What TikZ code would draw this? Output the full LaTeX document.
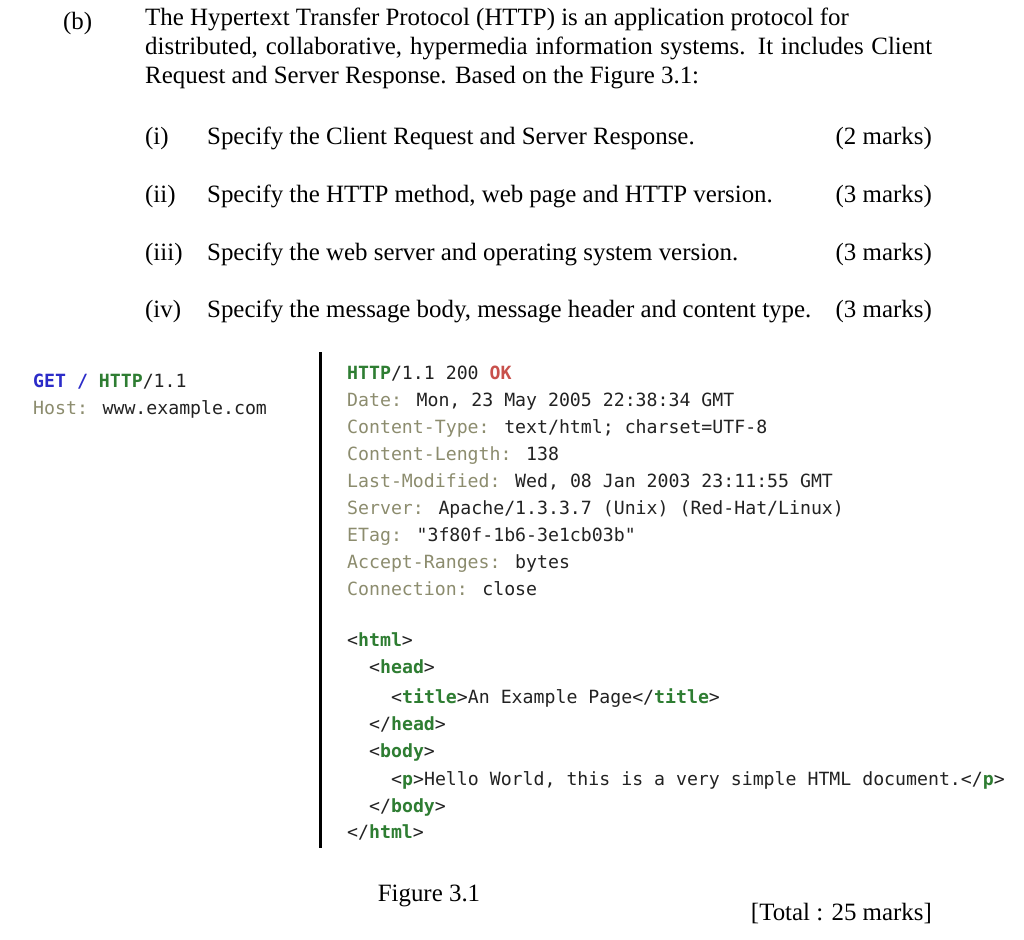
\documentclass[tikz,border=0pt]{standalone}
\usepackage{fontspec}
\setmainfont{Liberation Serif}
\newfontfamily\codefont{DejaVu Sans Mono}
\usepackage{xcolor}
\definecolor{kwblue}{HTML}{2B2BC8}
\definecolor{kwgreen}{HTML}{2E7D32}
\definecolor{hdr}{HTML}{8C8C6E}
\definecolor{okred}{HTML}{C8504B}
\definecolor{txt}{HTML}{222222}
\newcommand{\G}[1]{\textcolor{kwgreen}{\bfseries #1}}
\newcommand{\Hd}[1]{\textcolor{hdr}{#1}}
\tikzset{
  para/.style={anchor=base west,inner sep=0pt,font=\fontsize{24.9}{28.7}\selectfont},
  mk/.style={anchor=base east,inner sep=0pt,font=\fontsize{24.9}{28.7}\selectfont},
  code/.style={anchor=base west,inner sep=0pt,text=txt,font=\codefont\fontsize{18.2}{20}\selectfont}
}
\begin{document}
\begin{tikzpicture}[x=1pt,y=-1pt]
\useasboundingbox (0,0) rectangle (1024,939);
\node[para] (b) at (63,30) {(b)};
\node[para,text width=787pt,align=justify,anchor=north west] (p) at (145,8) {The Hypertext Transfer Protocol (HTTP) is an application protocol for\\ \hbox to 787pt{distributed, collaborative, hypermedia information systems. It includes Client}\\Request and Server Response. Based on the Figure 3.1:};
\node[para] (i1) at (145,144) {(i)};
\node[para] (i2) at (207,144) {Specify the Client Request and Server Response.};
\node[mk] (i3) at (932,144) {(2 marks)};
\node[para] (ii1) at (145,202) {(ii)};
\node[para] (ii2) at (207,202) {Specify the HTTP method, web page and HTTP version.};
\node[mk] (ii3) at (932,202) {(3 marks)};
\node[para] (iii1) at (145,260) {(iii)};
\node[para] (iii2) at (207,260) {Specify the web server and operating system version.};
\node[mk] (iii3) at (932,260) {(3 marks)};
\node[para] (iv1) at (145,317) {(iv)};
\node[para] (iv2) at (207,317) {Specify the message body, message header and content type.};
\node[mk] (iv3) at (932,317) {(3 marks)};
\draw[line width=3pt] (320,352) -- (320,848);
\node[code] (l1) at (33,387) {\textcolor{kwblue}{\bfseries GET / }\G{HTTP}/1.1};
\node[code] (l2) at (33,414) {\Hd{Host:} www.example.com};
\node[code] (r1) at (347,379) {\G{HTTP}/1.1 200 \textcolor{okred}{\bfseries OK}};
\node[code] (r2) at (347,406) {\Hd{Date:} Mon, 23 May 2005 22:38:34 GMT};
\node[code] (r3) at (347,433) {\Hd{Content-Type:} text/html; charset=UTF-8};
\node[code] (r4) at (347,460) {\Hd{Content-Length:} 138};
\node[code] (r5) at (347,487) {\Hd{Last-Modified:} Wed, 08 Jan 2003 23:11:55 GMT};
\node[code] (r6) at (347,514) {\Hd{Server:} Apache/1.3.3.7 (Unix) (Red-Hat/Linux)};
\node[code] (r7) at (347,541) {\Hd{ETag:} "3f80f-1b6-3e1cb03b"};
\node[code] (r8) at (347,568) {\Hd{Accept-Ranges:} bytes};
\node[code] (r9) at (347,595) {\Hd{Connection:} close};
\node[code] (h1) at (347,646) {<\G{html}>};
\node[code] (h2) at (369,673) {<\G{head}>};
\node[code] (h3) at (391,703) {<\G{title}>An Example Page</\G{title}>};
\node[code] (h4) at (369,730) {</\G{head}>};
\node[code] (h5) at (369,757) {<\G{body}>};
\node[code] (h6) at (391,785) {<\G{p}>Hello World, this is a very simple HTML document.</\G{p}>};
\node[code] (h7) at (369,812) {</\G{body}>};
\node[code] (h8) at (347,838) {</\G{html}>};
\node[para,anchor=base] (fig) at (429,901) {Figure 3.1};
\node[mk] (tot) at (932,920) {[Total : 25 marks]};
\end{tikzpicture}
\end{document}
